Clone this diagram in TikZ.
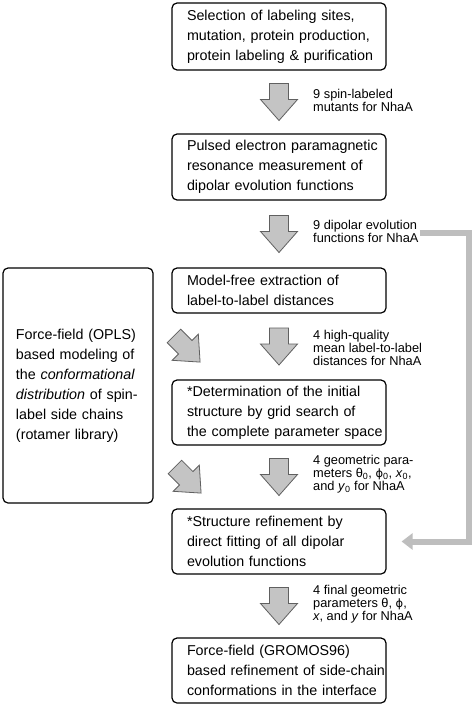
\documentclass[tikz,border=0pt]{standalone}
\usepackage{fontspec}
\setmainfont{Liberation Sans}
\newfontfamily\greekfont{DejaVu Sans}
\usetikzlibrary{arrows.meta,calc}

\definecolor{arrowfill}{RGB}{196,196,196}
\definecolor{arrowline}{RGB}{96,96,96}
\definecolor{loopgray}{RGB}{190,190,190}

\newcommand{\phisym}{{\greekfont\fontsize{11.5}{13}\selectfont ϕ}}

\tikzset{
  stepbox/.style={draw=black, line width=1.2pt, rounded corners=5pt,
    inner xsep=0pt, inner ysep=0pt, text width=214pt, align=left,
    font=\fontsize{14.3}{20}\selectfont,
    execute at begin node={\leftskip=15pt}},
  sidebox/.style={draw=black, line width=1.2pt, rounded corners=5pt,
    inner xsep=0pt, inner ysep=0pt, text width=150pt, align=left,
    font=\fontsize{14.3}{20}\selectfont,
    execute at begin node={\leftskip=13pt}},
  note/.style={anchor=west, inner sep=0pt, align=left,
    font=\fontsize{12.8}{13}\selectfont},
  loopline/.style={draw=loopgray, line width=6pt,
    -{Triangle[length=11pt,width=16pt]}},
  blockarrow/.pic={
    \draw[fill=arrowfill, draw=arrowline, line width=0.8pt, line join=miter]
      (-9.5,-18.5) -- (9.5,-18.5) -- (9.5,-2.5) -- (18.5,-2.5) -- (0,18.5)
      -- (-18.5,-2.5) -- (-9.5,-2.5) -- cycle;
  }
}

\begin{document}
\begin{tikzpicture}[x=1pt,y=-1pt]
\useasboundingbox (0,0) rectangle (474,706);
\fill[white] (0,0) rectangle (474,706);

\node[stepbox, minimum height=67pt] (b1) at (279,36.5)
  {Selection of labeling sites,\\mutation, protein production,\\protein labeling \& purification};
\node[stepbox, minimum height=66pt] (b2) at (279,167)
  {Pulsed electron paramagnetic\\resonance measurement of\\dipolar evolution functions};
\node[stepbox, minimum height=45pt] (b3) at (279,290.5)
  {Model-free extraction of\\label-to-label distances};
\node[stepbox, minimum height=65pt] (b4) at (279,412.5)
  {*Determination of the initial\\structure by grid search of\\the complete parameter space};
\node[stepbox, minimum height=65pt] (b5) at (279,541.5)
  {*Structure refinement by\\direct fitting of all dipolar\\evolution functions};
\node[stepbox, minimum height=65pt] (b6) at (279,670.5)
  {Force-field (GROMOS96)\\based refinement of side-chain\\conformations in the interface};
\node[sidebox, minimum height=235pt] (fl) at (78,385.5)
  {Force-field (OPLS)\\based modeling of\\the \textit{conformational}\\\textit{distribution} of spin-\\label side chains\\(rotamer library)};

\pic (a1) at ($(b1.south)!0.5!(b2.north)$) {blockarrow};
\pic (a2) at ($(b2.south)!0.5!(b3.north)$) {blockarrow};
\pic (a3) at ($(b3.south)!0.5!(b4.north)$) {blockarrow};
\pic (a4) at ($(b4.south)!0.5!(b5.north)$) {blockarrow};
\pic (a5) at ($(b5.south)!0.5!(b6.north)$) {blockarrow};
\pic[rotate=45] (d1) at (187,349) {blockarrow};
\pic[rotate=45] (d2) at (188,480) {blockarrow};

\node[note] (l1) at (313,100) {9 spin-labeled\\mutants for NhaA};
\node[note] (l2) at (313,231) {9 dipolar evolution\\functions for NhaA};
\node[note] (l3) at (313,347.5) {4 high-quality\\mean label-to-label\\distances for NhaA};
\node[note] (l4) at (313,474) {4 geometric para-\\meters θ\textsubscript{0}, \phisym\textsubscript{0}, \textit{x}\textsubscript{0},\\and \textit{y}\textsubscript{0} for NhaA};
\node[note] (l5) at (313,604) {4 final geometric\\parameters θ, \phisym,\\\textit{x}, and \textit{y} for NhaA};

\coordinate (loopstart) at (420,233);
\draw[loopline, shorten >=15pt] (loopstart) -- ++(49,0) |- (b5.east);
\end{tikzpicture}
\end{document}
